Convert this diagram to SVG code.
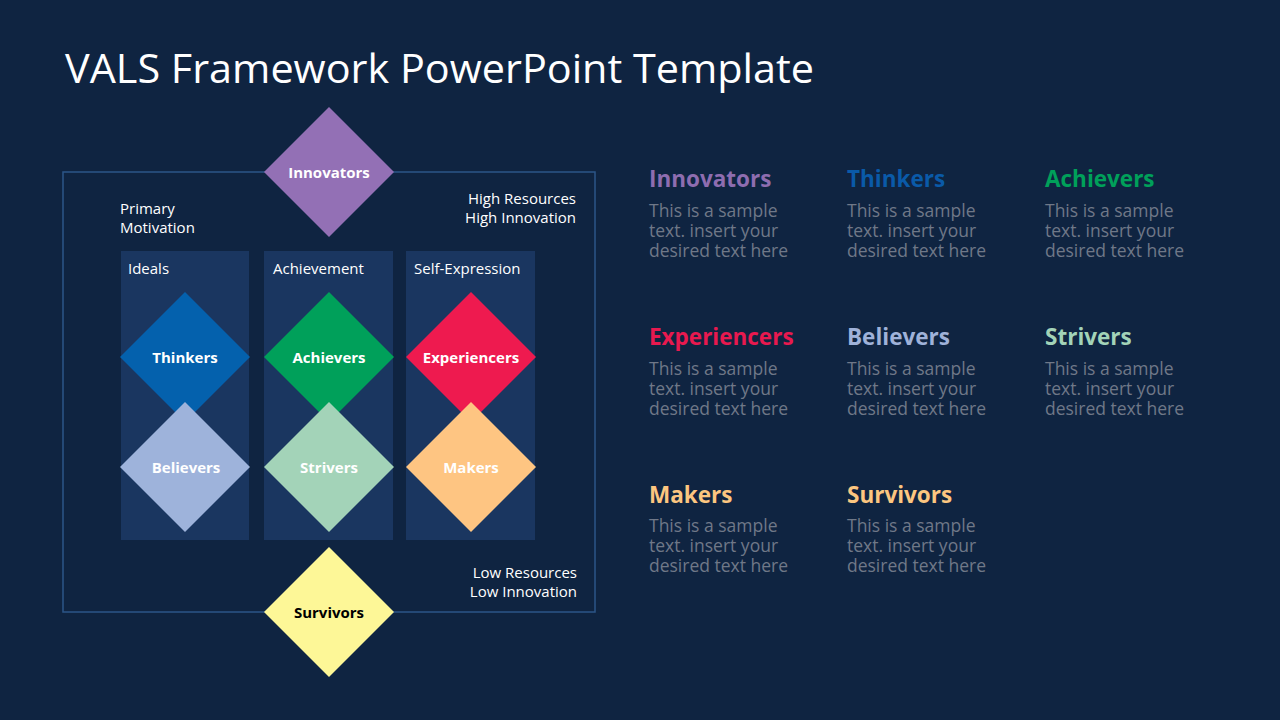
<svg xmlns="http://www.w3.org/2000/svg" width="1280" height="720" viewBox="0 0 1280 720">
<style>
.t{font-family:"Open Sans","Noto Sans","Liberation Sans",sans-serif;}
.lbl{font-family:"Open Sans","Noto Sans","Liberation Sans",sans-serif;font-size:15px;fill:#ffffff;}
.dl{font-family:"Open Sans","Noto Sans","Liberation Sans",sans-serif;font-size:15px;font-weight:bold;fill:#ffffff;text-anchor:middle;}
.hd{font-family:"Open Sans","Noto Sans","Liberation Sans",sans-serif;font-size:22.5px;font-weight:bold;}
.bd{font-family:"Open Sans","Noto Sans","Liberation Sans",sans-serif;font-size:17.5px;fill:#6f7888;}
.col{fill:#1a3660;}
</style>
<rect x="0" y="0" width="1280" height="720" fill="#0f2441"/>
<text class="t" x="65" y="83" font-size="40" fill="#ffffff" textLength="749" lengthAdjust="spacingAndGlyphs">VALS Framework PowerPoint Template</text>

<g id="frame">
<rect x="63" y="172" width="532" height="440" fill="none" stroke="#2c5588" stroke-width="1.5"/>
</g>

<g id="labels">
<text class="lbl" x="120" y="214">Primary</text>
<text class="lbl" x="120" y="233">Motivation</text>
<text class="lbl" x="576" y="204" text-anchor="end">High Resources</text>
<text class="lbl" x="576" y="223" text-anchor="end">High Innovation</text>
<text class="lbl" x="577" y="578" text-anchor="end">Low Resources</text>
<text class="lbl" x="577" y="597" text-anchor="end">Low Innovation</text>
</g>

<g id="col-ideals">
<rect class="col" x="121" y="251" width="128" height="289"/>
<text class="lbl" x="128" y="274">Ideals</text>
</g>
<g id="col-achievement">
<rect class="col" x="264" y="251" width="129" height="289"/>
<text class="lbl" x="273" y="274">Achievement</text>
</g>
<g id="col-selfexpression">
<rect class="col" x="406" y="251" width="129" height="289"/>
<text class="lbl" x="414" y="274">Self-Expression</text>
</g>

<g id="connectors"></g>

<g id="innovators">
<polygon points="329,107 394,172 329,237 264,172" fill="#9370b5"/>
<text class="dl" x="329" y="178">Innovators</text>
</g>
<g id="thinkers">
<polygon points="185,292 250,357 185,422 120,357" fill="#0461ad"/>
<text class="dl" x="185" y="363">Thinkers</text>
</g>
<g id="achievers">
<polygon points="329,292 394,357 329,422 264,357" fill="#00a05a"/>
<text class="dl" x="329" y="363">Achievers</text>
</g>
<g id="experiencers">
<polygon points="471,292 536,357 471,422 406,357" fill="#ee1a4f"/>
<text class="dl" x="471" y="363">Experiencers</text>
</g>
<g id="believers">
<polygon points="185,402 250,467 185,532 120,467" fill="#9eb3db"/>
<text class="dl" x="186" y="473">Believers</text>
</g>
<g id="strivers">
<polygon points="329,402 394,467 329,532 264,467" fill="#a3d3b8"/>
<text class="dl" x="329" y="473">Strivers</text>
</g>
<g id="makers">
<polygon points="471,402 536,467 471,532 406,467" fill="#fec582"/>
<text class="dl" x="471" y="473">Makers</text>
</g>
<g id="survivors">
<polygon points="329,547 394,612 329,677 264,612" fill="#fdf797"/>
<text class="dl" x="329" y="618" style="fill:#000000">Survivors</text>
</g>

<g id="desc-innovators">
<text class="hd" x="649" y="187" fill="#8e6db0">Innovators</text>
<text class="bd" x="649" y="217">This is a sample</text>
<text class="bd" x="649" y="237">text. insert your</text>
<text class="bd" x="649" y="257">desired text here</text>
</g>
<g id="desc-thinkers">
<text class="hd" x="847" y="187" fill="#0a5aa8">Thinkers</text>
<text class="bd" x="847" y="217">This is a sample</text>
<text class="bd" x="847" y="237">text. insert your</text>
<text class="bd" x="847" y="257">desired text here</text>
</g>
<g id="desc-achievers">
<text class="hd" x="1045" y="187" fill="#00a05a">Achievers</text>
<text class="bd" x="1045" y="217">This is a sample</text>
<text class="bd" x="1045" y="237">text. insert your</text>
<text class="bd" x="1045" y="257">desired text here</text>
</g>
<g id="desc-experiencers">
<text class="hd" x="649" y="345" fill="#e8194f">Experiencers</text>
<text class="bd" x="649" y="375">This is a sample</text>
<text class="bd" x="649" y="395">text. insert your</text>
<text class="bd" x="649" y="415">desired text here</text>
</g>
<g id="desc-believers">
<text class="hd" x="847" y="345" fill="#9fb2d9">Believers</text>
<text class="bd" x="847" y="375">This is a sample</text>
<text class="bd" x="847" y="395">text. insert your</text>
<text class="bd" x="847" y="415">desired text here</text>
</g>
<g id="desc-strivers">
<text class="hd" x="1045" y="345" fill="#a3d3b8">Strivers</text>
<text class="bd" x="1045" y="375">This is a sample</text>
<text class="bd" x="1045" y="395">text. insert your</text>
<text class="bd" x="1045" y="415">desired text here</text>
</g>
<g id="desc-makers">
<text class="hd" x="649" y="503" fill="#fcc680">Makers</text>
<text class="bd" x="649" y="532">This is a sample</text>
<text class="bd" x="649" y="552">text. insert your</text>
<text class="bd" x="649" y="572">desired text here</text>
</g>
<g id="desc-survivors">
<text class="hd" x="847" y="503" fill="#fcc680">Survivors</text>
<text class="bd" x="847" y="532">This is a sample</text>
<text class="bd" x="847" y="552">text. insert your</text>
<text class="bd" x="847" y="572">desired text here</text>
</g>
</svg>
